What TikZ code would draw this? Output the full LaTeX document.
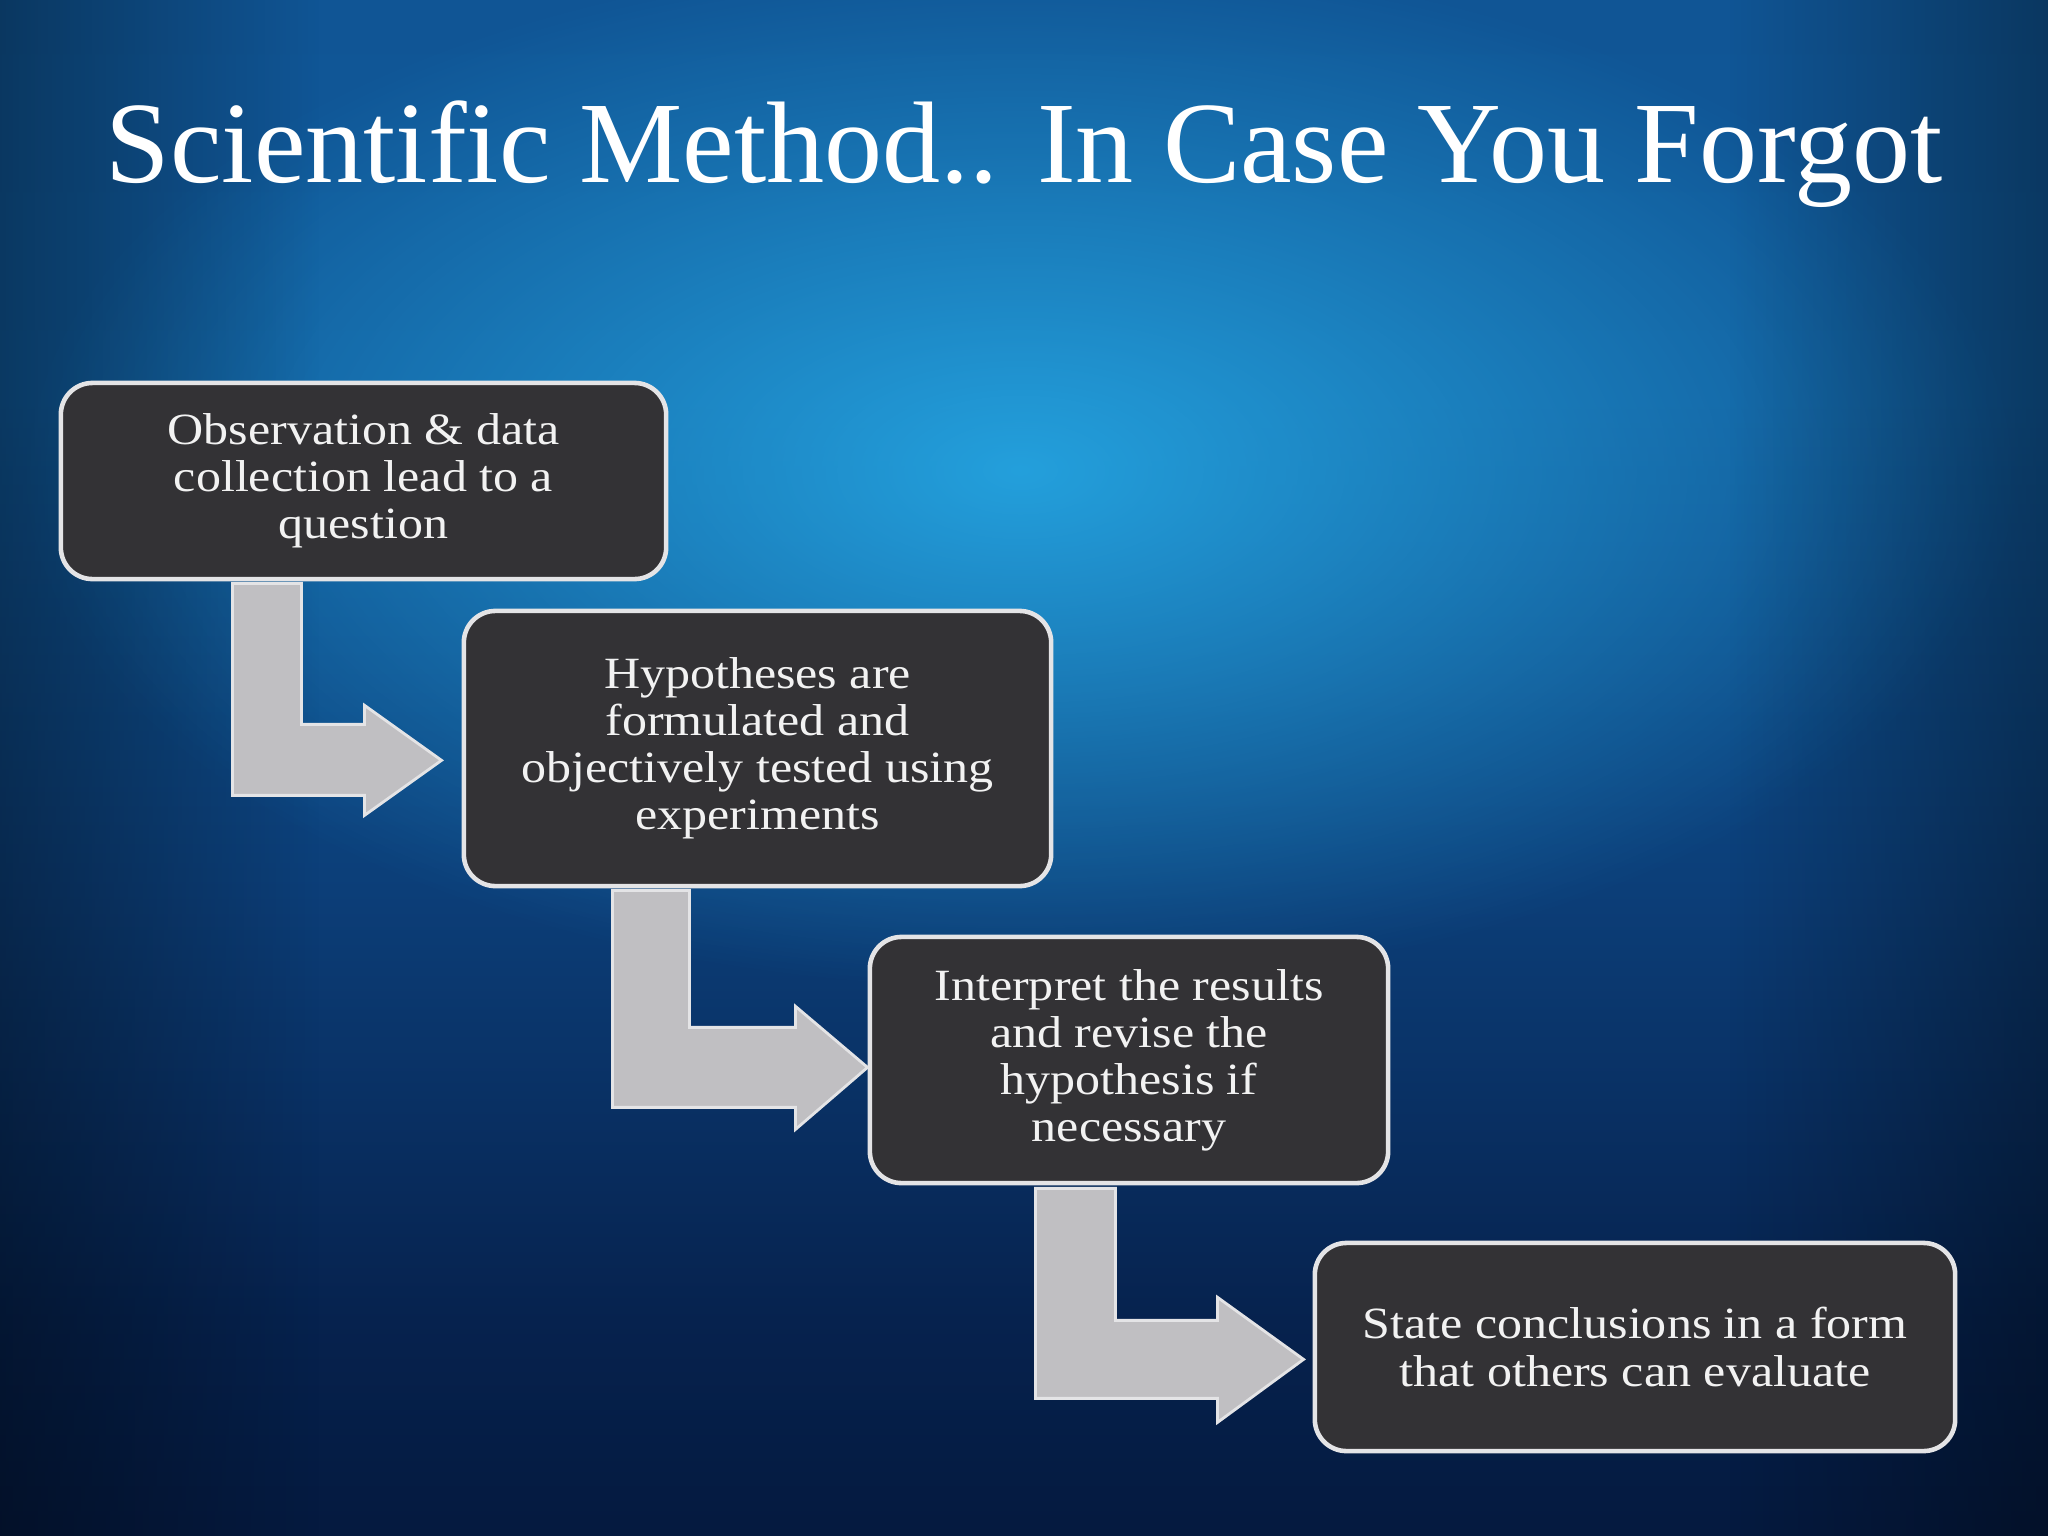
\documentclass[tikz,border=0pt]{standalone}
\usepackage{fontspec}
\setmainfont[FakeStretch=1.12]{Liberation Serif}
\newfontfamily\titlefont{Liberation Serif}
\usetikzlibrary{fadings,calc}
\definecolor{boxfill}{RGB}{51,50,53}
\definecolor{boxline}{RGB}{228,228,230}
\definecolor{arrowfill}{RGB}{192,191,194}
\definecolor{arrowline}{RGB}{228,228,230}
\definecolor{glow}{RGB}{38,168,228}
\definecolor{txt}{RGB}{242,242,242}
\definecolor{c0}{RGB}{2,10,32}
\definecolor{c1}{RGB}{3,17,48}
\definecolor{c2}{RGB}{6,34,78}
\definecolor{c3}{RGB}{12,62,120}
\definecolor{c4}{RGB}{16,88,152}
\definecolor{c5}{RGB}{16,84,148}
\definecolor{c6}{RGB}{13,58,112}
\definecolor{c7}{RGB}{6,24,52}
\pgfdeclareverticalshading{bgshade}{100bp}{
  color(0bp)=(c0); color(18bp)=(c1); color(32bp)=(c2);
  color(46bp)=(c3); color(62bp)=(c4); color(80bp)=(c5);
  color(93bp)=(c6); color(100bp)=(c7)}
\tikzfading[name=glowfade, inner color=transparent!0, outer color=transparent!100]
\tikzfading[name=leftedge, left color=transparent!0, right color=transparent!100]
\tikzfading[name=rightedge, left color=transparent!100, right color=transparent!0]
\tikzset{
  stepbox/.style={draw=boxline, line width=1.3pt, fill=boxfill,
    rounded corners=9pt, align=center, text=txt, inner sep=0pt,
    font=\fontsize{12.7}{13.4}\selectfont},
  bendarrow/.style={fill=arrowfill, draw=arrowline, line width=0.8pt, line join=miter},
  titletext/.style={text=white, inner sep=0pt, font=\titlefont\fontsize{33}{36}\selectfont}
}
\begin{document}
\begin{tikzpicture}[x=0.01cm,y=-0.01cm]
\useasboundingbox (0,0) rectangle (2048,1536);
% background
\shade[shading=bgshade] (0,0) rectangle (2048,1536);
\fill[glow, path fading=glowfade, fill opacity=0.9] (1020,470) ellipse [x radius=1000, y radius=520];
\fill[black, path fading=leftedge, fill opacity=0.35] (0,0) rectangle (320,1536);
\fill[black, path fading=rightedge, fill opacity=0.35] (1728,0) rectangle (2048,1536);
% title
\node[titletext, anchor=base] (title) at (1024,182) {Scientific Method.. In Case You Forgot};
% boxes
\node[stepbox, minimum width=6.05cm, minimum height=1.96cm] (b1) at (363.5,481)
  {Observation \& data\\collection lead to a\\question};
\node[stepbox, minimum width=5.87cm, minimum height=2.75cm] (b2) at (757.5,748.5)
  {Hypotheses are\\formulated and\\objectively tested using\\experiments};
\node[stepbox, minimum width=5.18cm, minimum height=2.46cm] (b3) at (1129,1060)
  {Interpret the results\\and revise the\\hypothesis if\\necessary};
\node[stepbox, minimum width=6.40cm, minimum height=2.08cm] (b4) at (1635,1347)
  {State conclusions in a form\\that others can evaluate};
% bent arrows
\draw[bendarrow] ($(b1.south west)+(174,2)$) -- ++(69,0) -- ++(0,141) -- ++(63,0)
  -- ++(0,-19) -- ++(77,55) -- ++(-77,55) -- ++(0,-20) -- ++(-132,0) -- cycle;
\draw[bendarrow] ($(b2.south west)+(151,2)$) -- ++(77,0) -- ++(0,137) -- ++(106,0)
  -- ++(0,-21) -- ++(72,61) -- ++(-72,62) -- ++(0,-22) -- ++(-183,0) -- cycle;
\draw[bendarrow] ($(b3.south west)+(168,3)$) -- ++(80,0) -- ++(0,132) -- ++(102,0)
  -- ++(0,-23) -- ++(86,62) -- ++(-86,63) -- ++(0,-24) -- ++(-182,0) -- cycle;
\end{tikzpicture}
\end{document}
